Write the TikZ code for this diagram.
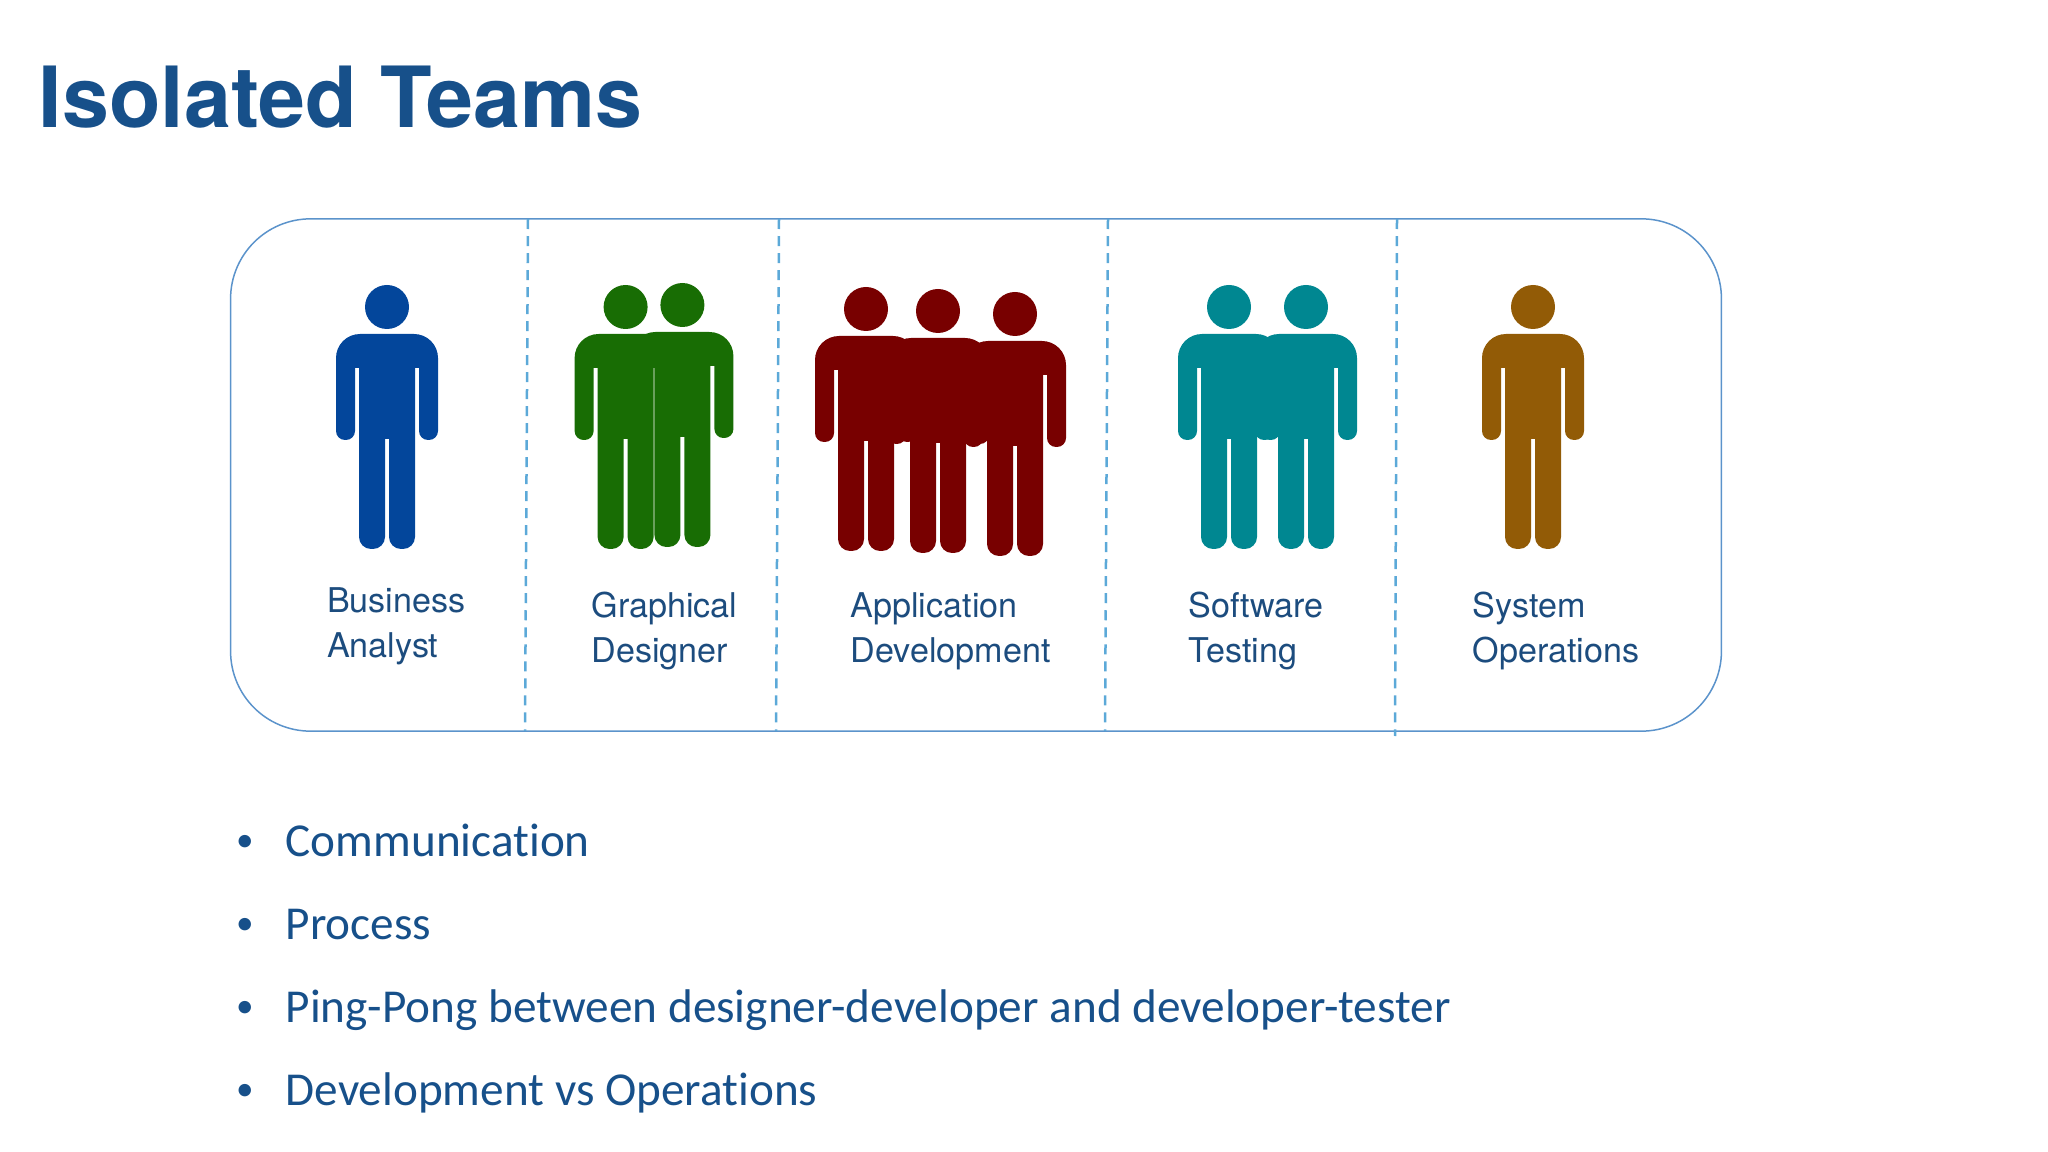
\documentclass[tikz,border=0pt]{standalone}
\usepackage{fontspec}
\setmainfont{TeX Gyre Heros}
\newfontfamily\bulletfont[Ligatures=NoCommon]{Carlito}
\definecolor{manblue}{HTML}{03469B}
\definecolor{mangreen}{HTML}{186D04}
\definecolor{manred}{HTML}{780000}
\definecolor{manteal}{HTML}{008791}
\definecolor{manbrown}{HTML}{925B06}
\definecolor{framecol}{HTML}{5B93CB}
\definecolor{sepcol}{HTML}{5CA9D8}
\definecolor{titlecol}{HTML}{17508A}
\definecolor{labelcol}{HTML}{1C4C7E}
\tikzset{
    person/.pic={
        \fill[#1] (0,0) circle (22);
        \fill[#1] (-28,61) [rounded corners=.12cm] -- (-28,242) -- (-2,242) [sharp corners] -- (-2,132) -- (2,132)
            [rounded corners=.12cm] -- (2,242) -- (28,242) [sharp corners] -- (28,61) -- (32,61)
            [rounded corners=.09cm] -- (32,133) -- (51,133) [rounded corners=.24cm] -- (51,27) -- (-51,27)
            [rounded corners=.09cm] -- (-51,133) -- (-32,133) [sharp corners] -- (-32,61) -- cycle;
    },
    sep/.style={draw=sepcol, line width=.025cm, dash pattern=on .1cm off .07cm},
    teamlabel/.style={anchor=base west, inner sep=0, align=left, text=labelcol, font=\fontsize{9.7}{12.75}\selectfont},
    bulletdot/.style={anchor=base west, inner sep=0, text=titlecol, font=\bulletfont\fontsize{10}{12}\selectfont},
    bullettext/.style={anchor=base west, inner sep=0, text=titlecol, font=\bulletfont\fontsize{13.43}{16}\selectfont}
}

\begin{document}
\begin{tikzpicture}[x=.01cm,y=-.01cm]
    \useasboundingbox (0,0) rectangle (2048,1152);

    \node (title) at (38,128) [anchor=base west, inner sep=0, text=titlecol, font=\fontsize{24}{28}\selectfont\bfseries] {Isolated Teams};

    \node (frame) at (976,475) [draw=framecol, line width=.015cm, rounded corners=.8cm, minimum width=14.9cm, minimum height=5.12cm] {};

    \coordinate (s1t) at (528,219);
    \coordinate (s1b) at (525,731);
    \coordinate (s2t) at (779,219);
    \coordinate (s2b) at (776,731);
    \coordinate (s3t) at (1108,219);
    \coordinate (s3b) at (1105,731);
    \coordinate (s4t) at (1397,219);
    \coordinate (s4b) at (1395,736);
    \draw[sep] (s1t) -- (s1b);
    \draw[sep] (s2t) -- (s2b);
    \draw[sep] (s3t) -- (s3b);
    \draw[sep] (s4t) -- (s4b);

    \pic at (387,307) {person=manblue};
    \pic at (625.6,307) {person=mangreen};
    \pic at (682.4,305) {person=mangreen};
    \pic at (866,309) {person=manred};
    \pic at (938,311) {person=manred};
    \pic at (1015,314) {person=manred};
    \pic at (1229,307) {person=manteal};
    \pic at (1306,307) {person=manteal};
    \pic at (1533,307) {person=manbrown};

    \node (ba) at (326.5,657) [teamlabel] {Business\\Analyst};
    \node (gd) at (591,662.5) [teamlabel] {Graphical\\Designer};
    \node (ad) at (850,662.5) [teamlabel] {Application\\Development};
    \node (st) at (1188,662.5) [teamlabel] {Software\\Testing};
    \node (so) at (1472,662.5) [teamlabel] {System\\Operations};

    \node (b1) at (235.5,851) [bulletdot] {•};
    \node (b2) at (235.5,934) [bulletdot] {•};
    \node (b3) at (235.5,1017) [bulletdot] {•};
    \node (b4) at (235.5,1100) [bulletdot] {•};
    \node (t1) at (285,856) [bullettext] {Communication};
    \node (t2) at (285,939) [bullettext] {Process};
    \node (t3) at (285,1022) [bullettext] {Ping-Pong between designer-developer and developer-tester};
    \node (t4) at (285,1105) [bullettext] {Development vs Operations};
\end{tikzpicture}
\end{document}
